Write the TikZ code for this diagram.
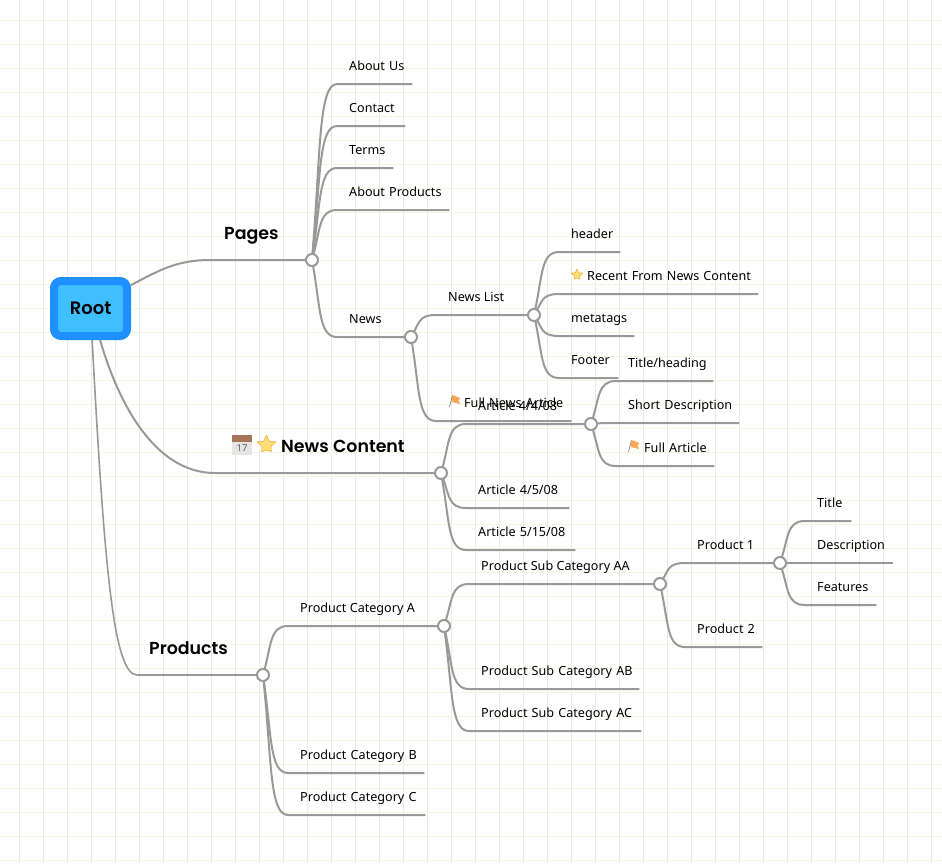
\documentclass[tikz,border=0pt]{standalone}
\usepackage{fontspec}
\setmainfont{Noto Sans}
\newfontfamily\headfont[BoldFont={Poppins SemiBold}]{Poppins}
\usetikzlibrary{backgrounds,calc}
\definecolor{linkgray}{HTML}{999999}
\definecolor{gridv}{HTML}{E9EDE1}
\definecolor{gridh}{HTML}{F0F7E4}
\definecolor{rootedge}{HTML}{1E90FF}
\definecolor{rootfill}{HTML}{40BFFF}
\definecolor{starfill}{HTML}{FFDF7A}
\definecolor{staredge}{HTML}{F2B33D}
\definecolor{flagfill}{HTML}{F5A857}
\definecolor{calband}{HTML}{A5745A}
\tikzset{
    link/.style={draw=linkgray, line width=2pt},
    junction/.style={circle, draw=linkgray, fill=white, line width=2pt, minimum size=12pt, inner sep=0pt},
    topic/.style={anchor=south west, inner sep=0pt, text height=12pt, text depth=20pt, font=\headfont\bfseries\fontsize{17.4}{20}\selectfont},
    leaf/.style={anchor=south west, inner sep=0pt, text height=10pt, text depth=13pt, align=left, font=\fontsize{12.6}{14}\selectfont},
    sprout/.style={to path={let \p1=(\tikztostart),\p2=(\tikztotarget) in
        .. controls ({\x1+.35*(\x2-\x1)},{\y1+.6*(\y2-\y1)}) and ({\x1+.25*(\x2-\x1)},{\y2}) .. (\tikztotarget)}},
    staricon/.pic={
        \draw[fill=starfill, draw=staredge, line width=.7pt, line join=round]
            (-90:6) -- (-54:2.8) -- (-18:6) -- (18:2.8) -- (54:5) -- (90:3) -- (126:5) -- (162:2.8) -- (198:6) -- (234:2.8) -- cycle;
    },
    flagicon/.pic={
        \draw[gray, line width=.7pt] (.5,12) -- (3.5,0);
        \fill[flagfill] (3.5,0) -- (11.5,3) -- (9.5,5) -- (11,9) -- (2.5,7) -- cycle;
    },
    calicon/.pic={
        \fill[black!10] (0,0) rectangle (20,20);
        \fill[calband] (0,0) rectangle (20,7);
        \node[inner sep=0pt, text=black!65, font=\fontsize{9.5}{10}\selectfont] (calday) at (10,13.5) {17};
    },
}

\begin{document}
\begin{tikzpicture}[x=1pt,y=-1pt]
        \useasboundingbox (0,0) rectangle (942,863);

        % Root
        \node [draw=rootedge, fill=rootfill, line width=8pt, rounded corners=7pt,
            minimum width=73pt, minimum height=55pt, inner sep=0pt,
            font=\headfont\bfseries\fontsize{18}{22}\selectfont,
        ] (root) at (90.5,308.5) {Root};

        % Junctions
        \node [junction] (pagesj) at (312,260) {};
        \node [junction] (newsj) at (411,337) {};
        \node [junction] (newslistj) at (534,315) {};
        \node [junction] (contentj) at (441,473) {};
        \node [junction] (articlej) at (591,424) {};
        \node [junction] (productsj) at (263,675) {};
        \node [junction] (cataj) at (444,626) {};
        \node [junction] (subaaj) at (660,584) {};
        \node [junction] (prodonej) at (780,563) {};

        % Pages
        \node [topic] (pages) at (224,260) {Pages};
        \node [leaf, text width=63pt] (aboutus) at (349,84) {About Us};
        \node [leaf, text width=56pt] (contact) at (349,126) {Contact};
        \node [leaf, text width=44pt] (terms) at (349,168) {Terms};
        \node [leaf, text width=100pt] (aboutproducts) at (349,210) {About Products};
        \node [leaf] (news) at (349,337) {News};
        \node [leaf] (newslist) at (448,315) {News List};
        \node [leaf, text width=107pt] (fullnews) at (464,421) {Full News Article};
        \node [leaf, text width=49pt] (header) at (571,252) {header};
        \node [leaf, text width=171pt] (recent) at (587,294) {Recent From News Content};
        \node [leaf, text width=63pt] (metatags) at (571,336) {metatags};
        \node [leaf, text width=47pt] (footer) at (571,378) {Footer};
        \pic at (449,395) {flagicon};
        \pic at (577,275) {staricon};

        % News Content
        \node [topic] (content) at (281,473) {News Content};
        \node [leaf] (article44) at (478,424) {Article 4/4/08};
        \node [leaf, text width=91pt] (article45) at (478,508) {Article 4/5/08};
        \node [leaf, text width=97pt] (article515) at (478,550) {Article 5/15/08};
        \node [leaf, text width=85pt] (titleheading) at (628,381) {Title/heading};
        \node [leaf, text width=111pt] (shortdesc) at (628,423) {Short Description};
        \node [leaf, text width=70pt] (fullarticle) at (644,466) {Full Article};
        \pic at (628,440) {flagicon};
        \pic at (232,435) {calicon};
        \pic[scale=1.65] at (266.5,445) {staricon};

        % Products
        \node [topic] (products) at (149,675) {Products};
        \node [leaf] (cata) at (300,626) {Product Category A};
        \node [leaf, text width=124pt] (catb) at (300,773) {Product Category B};
        \node [leaf, text width=125pt] (catc) at (300,815) {Product Category C};
        \node [leaf] (subaa) at (481,584) {Product Sub Category AA};
        \node [leaf, text width=158pt] (subab) at (481,689) {Product Sub Category AB};
        \node [leaf, text width=160pt] (subac) at (481,731) {Product Sub Category AC};
        \node [leaf] (prodone) at (697,563) {Product 1};
        \node [leaf, text width=65pt] (prodtwo) at (697,647) {Product 2};
        \node [leaf, text width=34pt] (title) at (817,521) {Title};
        \node [leaf, text width=76pt] (description) at (817,563) {Description};
        \node [leaf, text width=59pt] (features) at (817,605) {Features};

        \begin{scope}[on background layer]
            % grid
            \foreach \gx in {0,...,38} \draw[gridv, line width=1pt] ({19.5+24*\gx},0) -- ({19.5+24*\gx},863);
            \foreach \gy in {0,...,35} \draw[gridh, line width=1pt] (0,{20.5+24*\gy}) -- (942,{20.5+24*\gy});

            % main branches
            \draw[link] (root.30) to[out=28,in=180] ([xshift=-14pt]pages.south west) -- (pagesj.center);
            \draw[link] (root.-73) to[out=-74,in=180,looseness=.9] ([xshift=-66pt]content.south west) -- (contentj.center);
            \draw[link, line width=1.6pt] (root.-87) .. controls (104,560) and (113,675) .. ([xshift=-12pt]products.south west);
            \draw[link] ([xshift=-12pt]products.south west) -- (productsj.center);

            % branches that end in a junction
            \foreach \from/\item/\to/\gap in {
                pagesj/news/newsj/12, newsj/newslist/newslistj/12,
                contentj/article44/articlej/12, productsj/cata/cataj/12,
                cataj/subaa/subaaj/12, subaaj/prodone/prodonej/12}
                \draw[link] (\from.center) to[sprout] ([xshift=-\gap pt]\item.south west) -- (\to.center);

            % leaves
            \foreach \from/\item/\gap in {
                pagesj/aboutus/12, pagesj/contact/12, pagesj/terms/12, pagesj/aboutproducts/12,
                newsj/fullnews/28, newslistj/header/12, newslistj/recent/28,
                newslistj/metatags/12, newslistj/footer/12,
                contentj/article45/12, contentj/article515/12,
                articlej/titleheading/12, articlej/shortdesc/12, articlej/fullarticle/28,
                productsj/catb/12, productsj/catc/12, cataj/subab/12, cataj/subac/12,
                subaaj/prodtwo/12, prodonej/title/12, prodonej/description/12, prodonej/features/12}
                \draw[link] (\from.center) to[sprout] ([xshift=-\gap pt]\item.south west) -- (\item.south east);
        \end{scope}
\end{tikzpicture}
\end{document}
